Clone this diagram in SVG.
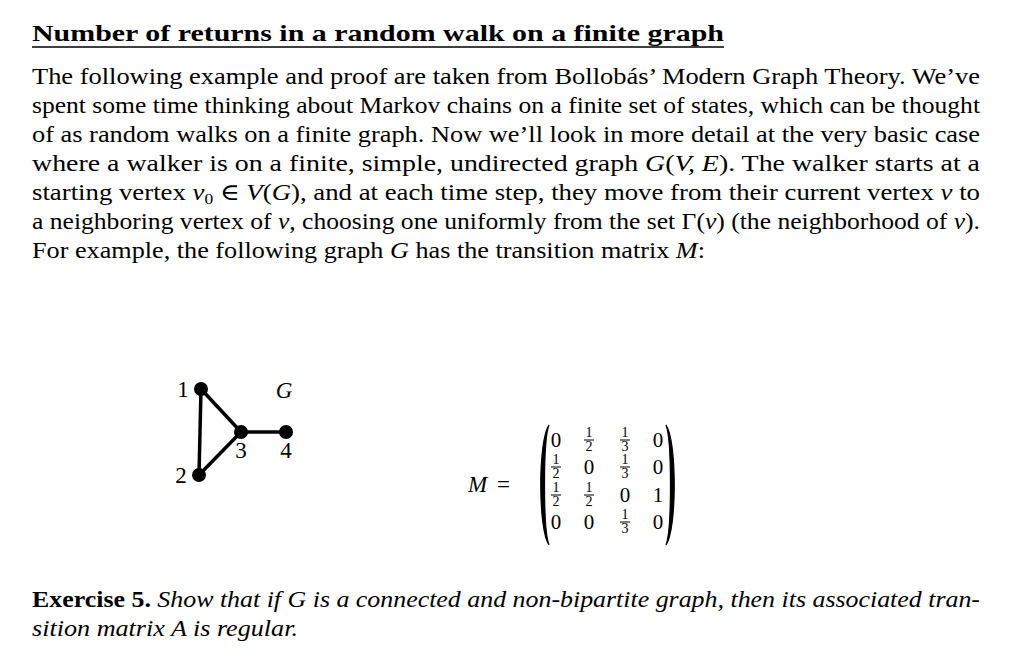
<svg xmlns="http://www.w3.org/2000/svg" width="1024" height="658" viewBox="0 0 1024 658">
<style>
text{font-family:"Liberation Serif","DejaVu Serif",serif;font-size:23px;fill:#000}
.i{font-style:italic}
.m{font-size:21px}
.f{font-size:14px;text-anchor:middle}
.c{text-anchor:middle}
.e{stroke:#000;stroke-width:3.5}
.bar{stroke:#000;stroke-width:1}
</style>
<rect width="1024" height="658" fill="#fff"/>
<g id="text">
<text x="32" y="41" font-weight="bold" font-size="25" textLength="692" lengthAdjust="spacingAndGlyphs">Number of returns in a random walk on a finite graph</text>
<line x1="32" y1="47" x2="724" y2="47" stroke="#000" stroke-width="1.5"/>
<text x="32" y="84" textLength="948" lengthAdjust="spacingAndGlyphs">The following example and proof are taken from Bollobás’ Modern Graph Theory.  We’ve</text>
<text x="32" y="113" textLength="948" lengthAdjust="spacingAndGlyphs">spent some time thinking about Markov chains on a finite set of states, which can be thought</text>
<text x="32" y="142" textLength="948" lengthAdjust="spacingAndGlyphs">of as random walks on a finite graph.  Now we’ll look in more detail at the very basic case</text>
<text x="32" y="171" textLength="948" lengthAdjust="spacingAndGlyphs">where a walker is on a finite, simple, undirected graph <tspan class="i">G</tspan>(<tspan class="i">V, E</tspan>).  The walker starts at a</text>
<text x="32" y="200" textLength="948" lengthAdjust="spacingAndGlyphs">starting vertex <tspan class="i">v</tspan><tspan font-size="15" dy="4">0</tspan><tspan dy="-4"> ∈ </tspan><tspan class="i">V</tspan>(<tspan class="i">G</tspan>), and at each time step, they move from their current vertex <tspan class="i">v</tspan> to</text>
<text x="32" y="229" textLength="948" lengthAdjust="spacingAndGlyphs">a neighboring vertex of <tspan class="i">v</tspan>, choosing one uniformly from the set Γ(<tspan class="i">v</tspan>) (the neighborhood of <tspan class="i">v</tspan>).</text>
<text x="32" y="258" textLength="673" lengthAdjust="spacingAndGlyphs">For example, the following graph <tspan class="i">G</tspan> has the transition matrix <tspan class="i">M</tspan>:</text>
<text x="32" y="607" textLength="948" lengthAdjust="spacingAndGlyphs"><tspan font-weight="bold">Exercise 5.</tspan> <tspan class="i">Show that if G is a connected and non-bipartite graph, then its associated tran-</tspan></text>
<text x="32" y="636" class="i" textLength="266" lengthAdjust="spacingAndGlyphs">sition matrix A is regular.</text>
</g>
<g id="connectors">
<line class="e" x1="201" y1="389" x2="199" y2="475"/>
<line class="e" x1="201" y1="389" x2="241" y2="432"/>
<line class="e" x1="199" y1="475" x2="241" y2="432"/>
<line class="e" x1="241" y1="432" x2="286" y2="432"/>
</g>
<g id="node1"><circle cx="201" cy="389" r="7"/><text x="183" y="397" class="c">1</text></g>
<g id="node2"><circle cx="199" cy="475" r="7"/><text x="181" y="483" class="c">2</text></g>
<g id="node3"><circle cx="241" cy="432" r="7"/><text x="241" y="458" class="c">3</text></g>
<g id="node4"><circle cx="286" cy="432" r="7"/><text x="286" y="458" class="c">4</text></g>
<g id="labelG"><text x="284" y="398" class="i c">G</text></g>
<g id="matrix">
<text x="468" y="492" class="i">M</text><text x="497" y="492">=</text>
<path d="M549,425 C538,440 538,530 549,545 C543,530 543,440 549,425 Z" fill="#000" stroke="#000" stroke-width="1.2"/>
<path d="M666,425 C677,440 677,530 666,545 C672,530 672,440 666,425 Z" fill="#000" stroke="#000" stroke-width="1.2"/>
<text x="556" y="447" class="c m">0</text>
<text x="589" y="437" class="f">1</text><line class="bar" x1="584" y1="440" x2="594" y2="440"/><text x="589" y="451" class="f">2</text>
<text x="625" y="437" class="f">1</text><line class="bar" x1="620" y1="440" x2="630" y2="440"/><text x="625" y="451" class="f">3</text>
<text x="658" y="447" class="c m">0</text>
<text x="556" y="464" class="f">1</text><line class="bar" x1="551" y1="467" x2="561" y2="467"/><text x="556" y="478" class="f">2</text>
<text x="589" y="474" class="c m">0</text>
<text x="625" y="464" class="f">1</text><line class="bar" x1="620" y1="467" x2="630" y2="467"/><text x="625" y="478" class="f">3</text>
<text x="658" y="474" class="c m">0</text>
<text x="556" y="492" class="f">1</text><line class="bar" x1="551" y1="495" x2="561" y2="495"/><text x="556" y="506" class="f">2</text>
<text x="589" y="492" class="f">1</text><line class="bar" x1="584" y1="495" x2="594" y2="495"/><text x="589" y="506" class="f">2</text>
<text x="625" y="502" class="c m">0</text>
<text x="658" y="502" class="c m">1</text>
<text x="556" y="529" class="c m">0</text>
<text x="589" y="529" class="c m">0</text>
<text x="625" y="519" class="f">1</text><line class="bar" x1="620" y1="522" x2="630" y2="522"/><text x="625" y="533" class="f">3</text>
<text x="658" y="529" class="c m">0</text>
</g>
</svg>
